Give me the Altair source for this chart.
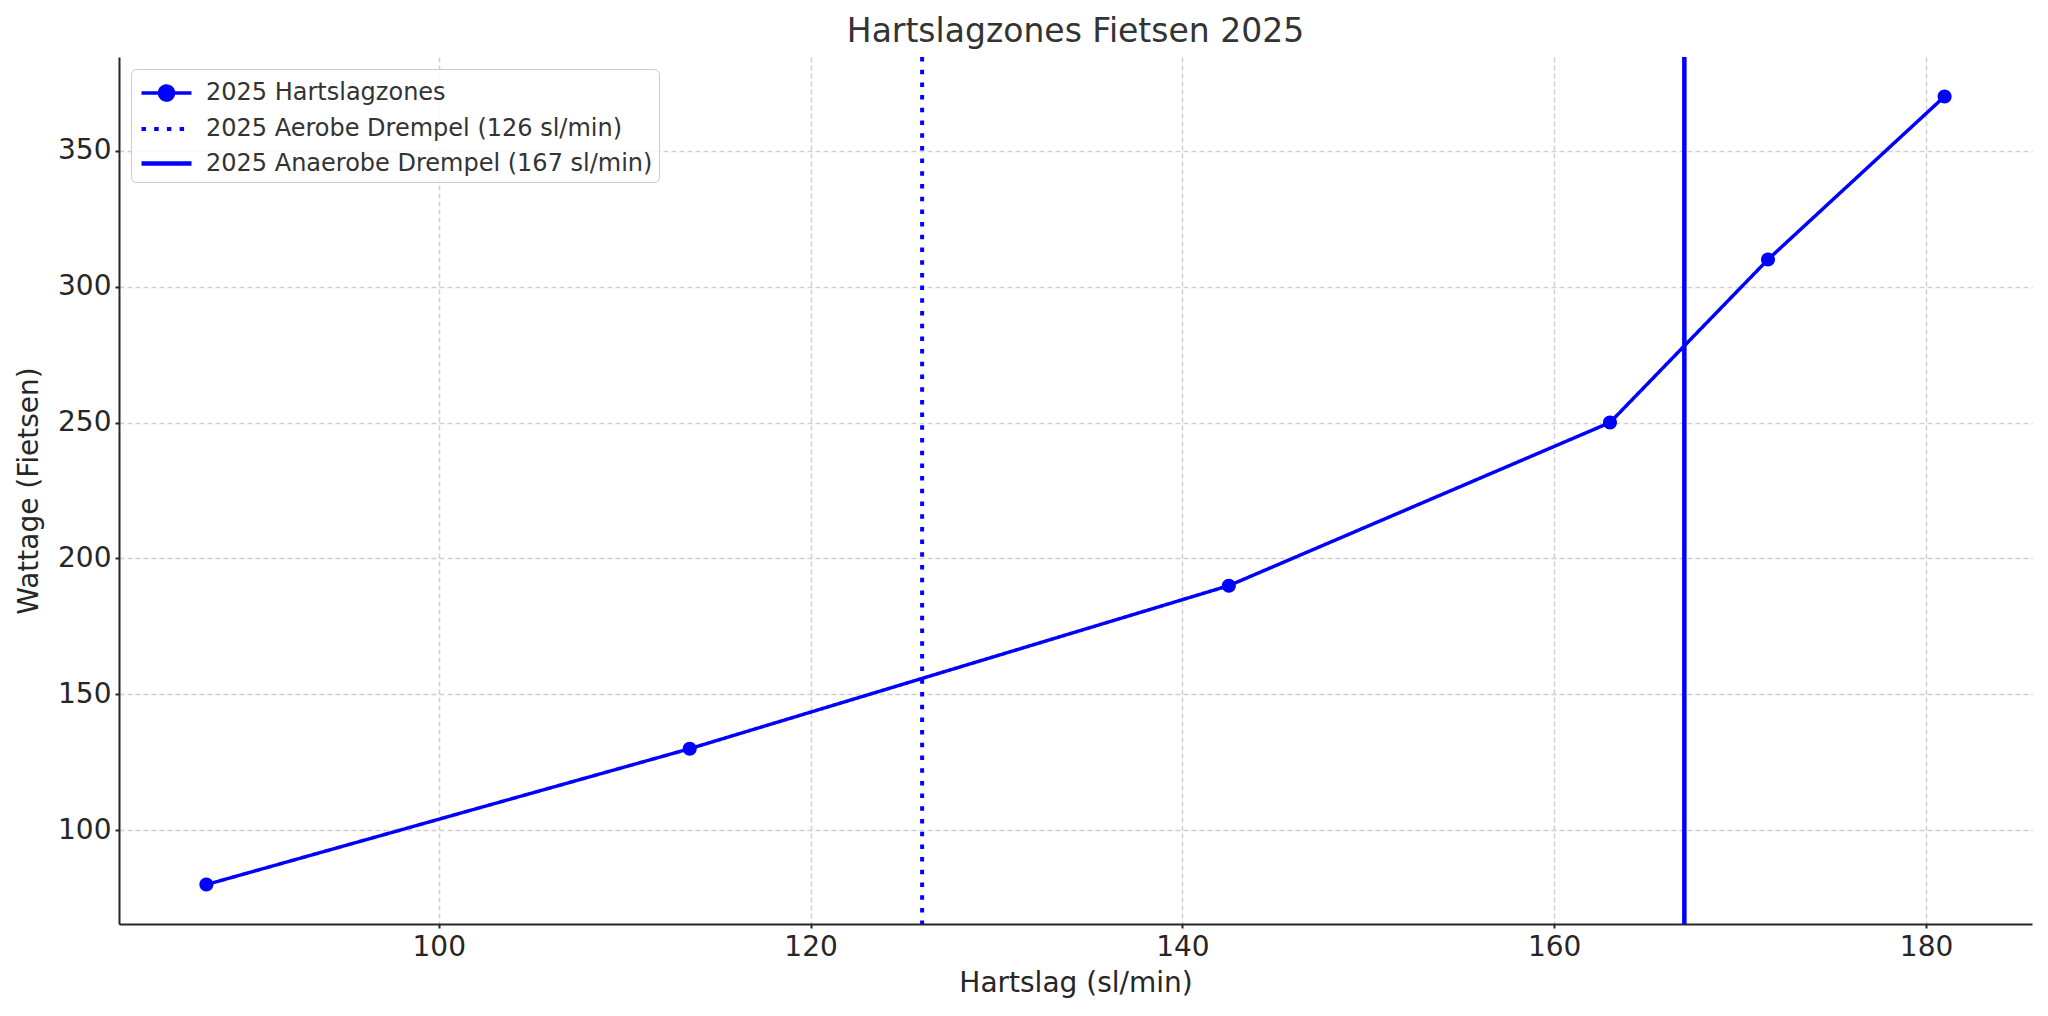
import altair as alt
import pandas as pd

# ---- data ----
series_names = [
    "2025 Hartslagzones",
    "2025 Aerobe Drempel (126 sl/min)",
    "2025 Anaerobe Drempel (167 sl/min)",
]
heart_rate = [87.5, 113.5, 142.5, 163.0, 171.5, 181.0]
wattage = [80, 130, 190, 250, 310, 370]
threshold_values = [126, 167]
threshold_names = series_names[1:]
x_ticks = [100, 120, 140, 160, 180]
y_ticks = [100, 150, 200, 250, 300, 350]

zones = pd.DataFrame({"hr": heart_rate, "w": wattage, "series": series_names[0]})
thr = pd.DataFrame({"hr": threshold_values, "series": threshold_names})

BLUE = "#0000ff"
FONT = "DejaVu Sans"
SYM = 1024  # symbol area -> 32 px nominal box, path scale 16 px per unit
circle_line = "M-1.5625,0H1.5625M0.4375,0A0.4375,0.4375 0 1,1 -0.4375,0A0.4375,0.4375 0 1,1 0.4375,0Z"
plain_line = "M-1.5625,0H1.5625"

legend = alt.Legend(
    title=None, orient="none", legendX=12, legendY=12,
    labelFontSize=24, labelFont=FONT, labelColor="#333333",
    labelOffset=21, symbolOffset=11, rowPadding=4, padding=6, symbolSize=SYM,
    strokeColor="#cccccc", cornerRadius=5, fillColor="rgba(255,255,255,0.85)",
    labelLimit=1000,
)

xs = alt.Scale(domain=[82.8, 185.7], nice=False, zero=False)
ys = alt.Scale(domain=[65.5, 384.5], nice=False, zero=False)

x_axis = alt.Axis(values=x_ticks, format="d", title="Hartslag (sl/min)", titlePadding=8,
                  labelPadding=5)
y_axis = alt.Axis(values=y_ticks, format="d", title="Wattage (Fietsen)", titlePadding=14,
                  labelPadding=4)

color = alt.Color("series:N", scale=alt.Scale(domain=series_names, range=[BLUE] * 3), legend=legend)
dash = alt.StrokeDash("series:N", scale=alt.Scale(domain=series_names, range=[[1, 0], [4.5, 8.2], [1, 0]]), legend=legend)
swidth = alt.StrokeWidth("series:N", scale=alt.Scale(domain=series_names, range=[3.5, 4.5, 5]), legend=legend)
shape = alt.Shape("series:N", scale=alt.Scale(domain=series_names, range=[circle_line, plain_line, plain_line]), legend=legend)

line = alt.Chart(zones).mark_line(strokeCap="butt").encode(
    x=alt.X("hr:Q", scale=xs, axis=x_axis),
    y=alt.Y("w:Q", scale=ys, axis=y_axis),
    color=color, strokeDash=dash, strokeWidth=swidth,
)

points = alt.Chart(zones).mark_point(filled=True, size=SYM, strokeWidth=0, opacity=1).encode(
    x=alt.X("hr:Q", scale=xs),
    y=alt.Y("w:Q", scale=ys),
    color=color, shape=shape,
)

rules = alt.Chart(thr).mark_rule(strokeCap="butt").encode(
    x=alt.X("hr:Q", scale=xs),
    color=color, strokeDash=dash, strokeWidth=swidth,
)

chart = alt.layer(points, line, rules).properties(
    width=1913, height=867,
    autosize=alt.AutoSizeParams(type="none"),
    padding={"left": 111, "top": 49, "right": 8, "bottom": 80},
    title=alt.TitleParams("Hartslagzones Fietsen 2025", fontSize=33, font=FONT,
                          fontWeight="normal", color="#333333", anchor="middle", offset=6),
).configure_view(stroke=None).configure_axis(
    labelFont=FONT, titleFont=FONT, labelFontSize=28, titleFontSize=28,
    labelColor="#262626", titleColor="#262626", titleFontWeight="normal",
    domainColor="#262626", domainWidth=2, tickColor="#262626", tickWidth=2, tickSize=4,
    gridColor="#d0d0d0", gridDash=[5, 3], gridWidth=1.5,
)

chart.save("out.html", embed_options={"renderer": "svg", "actions": False})
